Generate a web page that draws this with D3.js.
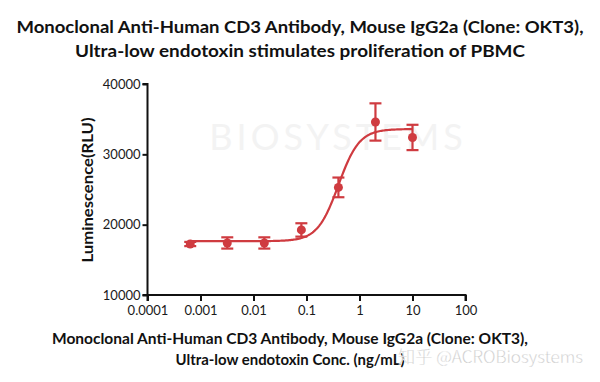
<!DOCTYPE html>
<html><head><meta charset="utf-8">
<script src="https://cdn.jsdelivr.net/npm/d3@7"></script>
<style>body{margin:0;background:#fff}svg{display:block}</style>
</head><body>
<svg id="c" width="600" height="382"></svg>
<script>
// ---- data ----
const concentrations = [0.00064, 0.0032, 0.016, 0.08, 0.4, 2, 10];
const luminescence   = [17250, 17400, 17400, 19250, 25300, 34600, 32400];
const errors         = [300, 800, 800, 950, 1400, 2650, 1800];
// 4-parameter logistic fit
const fitBottom = 17650, fitTop = 33600, fitEC50 = 0.40, fitHill = 2.2;
const xTickValues = [0.0001, 0.001, 0.01, 0.1, 1, 10, 100];
const xTickLabels = ["0.0001", "0.001", "0.01", "0.1", "1", "10", "100"];
const yTickValues = [10000, 20000, 30000, 40000];
const titleLines = ["Monoclonal Anti-Human CD3 Antibody, Mouse IgG2a (Clone: OKT3),",
                    "Ultra-low endotoxin stimulates proliferation of PBMC"];
const xTitleLines = ["Monoclonal Anti-Human CD3 Antibody, Mouse IgG2a (Clone: OKT3),",
                     "Ultra-low endotoxin Conc. (ng/mL)"];
const yTitle = "Luminescence(RLU)";

// ---- drawing ----
const svg = d3.select("#c");
const font = "Lato, 'Open Sans', sans-serif";
const red = "#cf3b40";

// faint background watermark
svg.append("text").attr("x", 338).attr("y", 150).attr("text-anchor", "middle")
  .attr("font-family", font).attr("font-size", 36).attr("letter-spacing", 4)
  .attr("fill", "#f3f3f3").text("BIOSYSTEMS");

const x = d3.scaleLog().domain([0.0001, 100]).range([147.5, 465.5]);
const y = d3.scaleLinear().domain([10000, 40000]).range([295, 84]);

// titles
svg.selectAll("text.title").data(titleLines).join("text").attr("class", "title")
  .attr("x", 300).attr("y", (d, i) => 33 + i * 23.5).attr("text-anchor", "middle")
  .attr("font-family", font).attr("font-weight", "bold").attr("font-size", 17)
  .attr("fill", "#111")
  .attr("textLength", (d, i) => i === 0 ? 567 : 450).attr("lengthAdjust", "spacingAndGlyphs")
  .text(d => d);

// axes
const gx = svg.append("g").attr("transform", `translate(0,${y.range()[0]})`)
  .call(d3.axisBottom(x).tickValues(xTickValues).tickFormat((d, i) => xTickLabels[i]).tickSize(6).tickPadding(5));
const gy = svg.append("g").attr("transform", `translate(${x.range()[0]},0)`)
  .call(d3.axisLeft(y).tickValues(yTickValues).tickFormat(d3.format("d")).tickSize(5).tickPadding(2));
[gx, gy].forEach(g => {
  g.select(".domain").attr("stroke", "#111").attr("stroke-width", 2);
  g.selectAll(".tick line").attr("stroke", "#111").attr("stroke-width", 2);
  g.selectAll(".tick text").attr("font-family", font).attr("font-size", 13).attr("fill", "#1a1a1a");
});
gx.select(".domain").attr("d", `M${x.range()[0]},6V0H${x.range()[1]}V6`);
gy.select(".domain").attr("d", `M-5,${y.range()[0]}H0V${y.range()[1]}H-5`);

// axis titles
svg.selectAll("text.xt").data(xTitleLines).join("text").attr("class", "xt")
  .attr("x", 290).attr("y", (d, i) => 344 + i * 21).attr("text-anchor", "middle")
  .attr("font-family", font).attr("font-weight", "bold").attr("font-size", 15)
  .attr("fill", "#111")
  .attr("textLength", (d, i) => i === 0 ? 476 : 229).attr("lengthAdjust", "spacingAndGlyphs")
  .text(d => d);
svg.append("text").attr("transform", "translate(93,190) rotate(-90)")
  .attr("text-anchor", "middle").attr("font-family", font).attr("font-weight", "bold")
  .attr("font-size", 15).attr("fill", "#111")
  .attr("textLength", 145).attr("lengthAdjust", "spacingAndGlyphs").text(yTitle);

// fitted curve
const logistic = c => fitBottom + (fitTop - fitBottom) / (1 + Math.pow(fitEC50 / c, fitHill));
const lx0 = Math.log10(concentrations[0]), lx1 = Math.log10(concentrations[concentrations.length - 1]);
const curveX = d3.range(0, 201).map(i => Math.pow(10, lx0 + (lx1 - lx0) * i / 200));
svg.append("path").datum(curveX)
  .attr("d", d3.line().x(c => x(c)).y(c => y(logistic(c))))
  .attr("fill", "none").attr("stroke", red).attr("stroke-width", 2.2);

// error bars and points
const pts = concentrations.map((c, i) => ({c, v: luminescence[i], e: errors[i]}));
const eb = svg.append("g").attr("stroke", red).attr("stroke-width", 2.2);
pts.forEach(p => {
  const cx = x(p.c);
  eb.append("line").attr("x1", cx).attr("x2", cx).attr("y1", y(p.v + p.e)).attr("y2", y(p.v - p.e));
  [p.v + p.e, p.v - p.e].forEach(v => eb.append("line")
    .attr("x1", cx - 6).attr("x2", cx + 6).attr("y1", y(v)).attr("y2", y(v)));
});
svg.append("g").selectAll("circle").data(pts).join("circle")
  .attr("cx", d => x(d.c)).attr("cy", d => y(d.v)).attr("r", 4.5).attr("fill", red);

// corner watermark
svg.append("text").attr("x", 398).attr("y", 363)
  .attr("font-family", "'Noto Sans CJK SC', 'Noto Sans', sans-serif").attr("font-size", 17)
  .attr("font-weight", 300).attr("fill", "#bdbdbd").attr("stroke", "#fff").attr("stroke-width", 0.3)
  .attr("textLength", 185).attr("lengthAdjust", "spacingAndGlyphs")
  .text("知乎 @ACROBiosystems");
</script>
</body></html>
